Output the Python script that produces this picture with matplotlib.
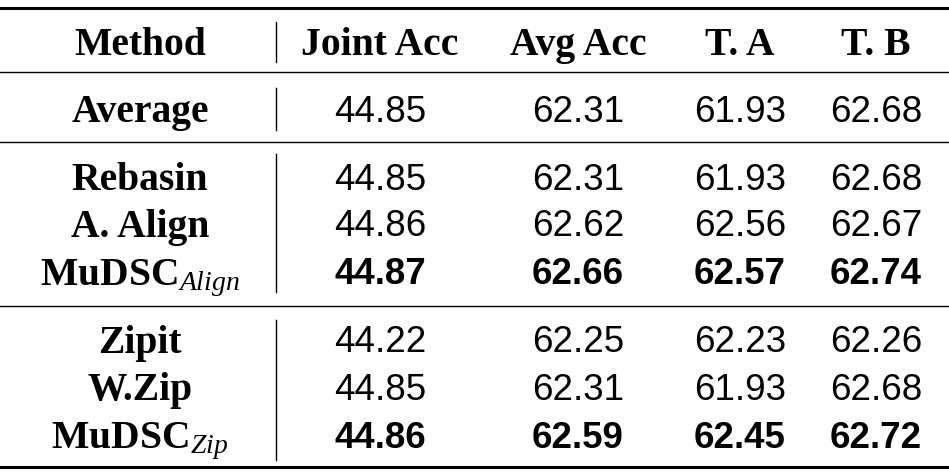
import matplotlib
matplotlib.use("Agg")
import matplotlib.pyplot as plt

plt.rcParams['mathtext.fontset'] = 'custom'
plt.rcParams['mathtext.it'] = 'Liberation Serif:italic'
plt.rcParams['mathtext.rm'] = 'Liberation Serif:bold'

headers = ["Method", "Joint Acc", "Avg Acc", "T. A", "T. B"]
methods = ["Average", "Rebasin", "A. Align", r"MuDSC$_{Align}$", "Zipit", "W.Zip", r"MuDSC$_{Zip}$"]
joint_acc = [44.85, 44.85, 44.86, 44.87, 44.22, 44.85, 44.86]
avg_acc = [62.31, 62.31, 62.62, 62.66, 62.25, 62.31, 62.59]
task_a = [61.93, 61.93, 62.56, 62.57, 62.23, 61.93, 62.45]
task_b = [62.68, 62.68, 62.67, 62.74, 62.26, 62.68, 62.72]
bold_rows = [3, 6]

fig = plt.figure(figsize=(9.49, 4.75), dpi=100)
ax = fig.add_axes([0, 0, 1, 1])
ax.set_xlim(0, 949)
ax.set_ylim(475, 0)
ax.axis('off')

col_x = [140, 380, 578, 740, 876]
header_y = 41
row_y = [108, 176, 223, 271, 339, 386, 434]

serif = 'Liberation Serif'
sans = 'Liberation Sans'
fs_serif = 28.5
fs_sans = 26.5

for x, h in zip(col_x, headers):
    ax.text(x, header_y, h, ha='center', va='center_baseline', family=serif, weight='bold', fontsize=fs_serif)

for i, y in enumerate(row_y):
    ax.text(col_x[0], y, methods[i], ha='center', va='center_baseline', family=serif, weight='bold', fontsize=fs_serif)
    w = 'bold' if i in bold_rows else 'normal'
    for x, v in zip(col_x[1:], (joint_acc[i], avg_acc[i], task_a[i], task_b[i])):
        ax.text(x, y, f"{v:.2f}", ha='center', va='center_baseline', family=sans, weight=w, fontsize=fs_sans)

ax.plot([0, 949], [8, 8], color='black', lw=2.2)
ax.plot([0, 949], [72, 72], color='black', lw=1.0)
ax.plot([0, 949], [142, 142], color='black', lw=1.0)
ax.plot([0, 949], [306, 306], color='black', lw=1.0)
ax.plot([0, 949], [467, 467], color='black', lw=2.2)

for y0, y1 in [(22, 62), (88, 130), (154, 292), (320, 460)]:
    ax.plot([276, 276], [y0, y1], color='black', lw=1.0)

fig.savefig("out.png", dpi=100)
